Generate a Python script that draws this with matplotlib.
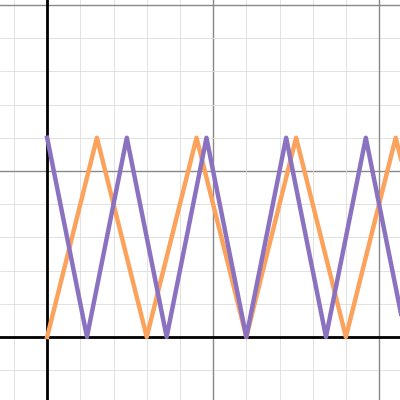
import matplotlib
matplotlib.use("Agg")
import matplotlib.pyplot as plt

# vertices (graph units)
orange_x = [0, 1.5, 3, 4.5, 6, 7.5, 9, 10.5, 12]
orange_y = [0, 6, 0, 6, 0, 6, 0, 6, 0]
purple_x = [0, 1.2, 2.4, 3.6, 4.8, 6, 7.2, 8.4, 9.6, 10.8]
purple_y = [6, 0, 6, 0, 6, 0, 6, 0, 6, 0]

fig = plt.figure(figsize=(4, 4), dpi=100)
ax = fig.add_axes([0, 0, 1, 1])
ax.set_xlim(-1.42, 10.63)
ax.set_ylim(-1.9, 10.15)

for v in range(-2, 12):
    w, c = (1.0, '#888888') if v % 5 == 0 else (0.6, '#dddddd')
    ax.axvline(v, color=c, lw=w, zorder=0)
    ax.axhline(v, color=c, lw=w, zorder=0)
ax.axvline(0, color='black', lw=2, zorder=1)
ax.axhline(0, color='black', lw=2, zorder=1)

ax.plot(orange_x, orange_y, color='#fba35c', lw=3.2, zorder=2, solid_joinstyle='round')
ax.plot(purple_x, purple_y, color='#8a72c0', lw=3.2, zorder=3, solid_joinstyle='round')

ax.set_xticks([])
ax.set_yticks([])
for s in ax.spines.values():
    s.set_visible(False)

fig.savefig('out.png', dpi=100)
